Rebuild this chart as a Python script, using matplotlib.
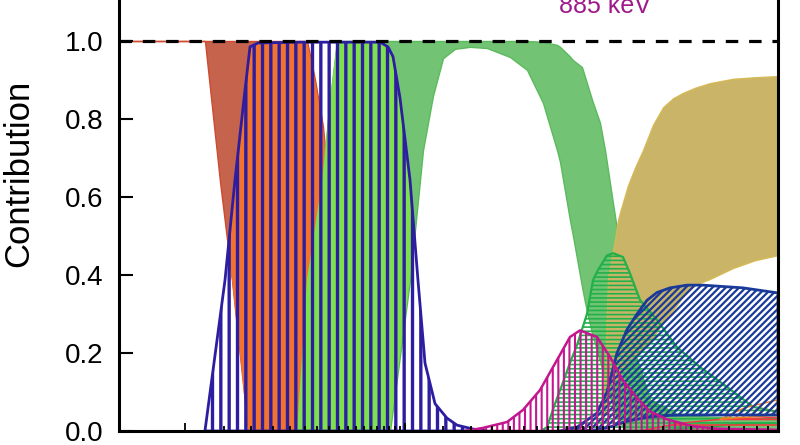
import matplotlib
matplotlib.use('Agg')
import matplotlib.pyplot as plt
from matplotlib.ticker import FixedLocator, NullFormatter, FormatStrFormatter

plt.rcParams['font.family'] = ['Liberation Sans', 'DejaVu Sans']
plt.rcParams['hatch.linewidth'] = 1.8

# ---------------- data (x on log scale) ----------------
ref_x = [0.5, 500]
ref_y = [1.0, 1.0]

# red solid band
red_x = [0.5, 1.231, 1.441, 1.634, 1.933, 3.589, 3.902, 4.243, 4.711, 5.070, 5.514]
red_lo = [1, 1, 0.64, 0.387, 0, 0, 0, 0, 0, 0, 0]
red_hi = [1, 1, 1, 1, 1, 1, 0.9, 0.78, 0.5, 0.2, 0]

# blue vertical-hatched band
blue_x = [1.231, 1.519, 1.687, 1.873, 1.974, 2.147, 3.334, 7.713, 8.386, 8.837,
          9.509, 10.56, 11.48, 12.36, 13.73, 15.56, 17.29, 20.44, 23.18]
blue_hi = [0, 0.387, 0.644, 0.874, 0.985, 0.995, 0.997, 0.997, 0.985, 0.96,
           0.854, 0.644, 0.387, 0.174, 0.07, 0.033, 0.015, 0.005, 0.0]
blue_lo = [0] * len(blue_x)

# green solid band
green_x = [3.230, 3.589, 4.199, 4.565, 4.913, 8.564, 10.56, 12.10, 13.44, 14.93,
           16.93, 19.81, 23.67, 30.12, 36.00, 42.58, 49.31, 50.88, 56.50, 58.30,
           64.07, 66.12, 71.19, 77.38, 81.55, 87.78, 93.45, 100.6, 111.7, 130.7,
           179.0, 500]
green_hi = [0, 0.39, 0.64, 0.85, 1.0, 1.0, 1.0, 1.0, 1.0, 1.0,
            1.0, 1.0, 1.0, 1.0, 1.0, 0.998, 0.99, 0.985, 0.96, 0.951,
            0.933, 0.908, 0.849, 0.79, 0.72, 0.6, 0.5, 0.35, 0.2, 0.08,
            0.04, 0.03]
green_lo = [0, 0, 0, 0, 0, 0, 0.387, 0.72, 0.86, 0.956,
            0.98, 0.985, 0.982, 0.959, 0.926, 0.841, 0.72, 0.69, 0.54, 0.50,
            0.37, 0.33, 0.25, 0.18, 0.13, 0.07, 0.03, 0, 0, 0,
            0, 0]

# tan solid band
tan_x = [77.38, 81.55, 84.13, 90.58, 93.45, 95.42, 103.8, 111.7, 121.4, 134.9,
         149.8, 166.3, 184.7, 209.5, 245.1, 311.9, 392.8, 500]
tan_hi = [0, 0.15, 0.39, 0.49, 0.54, 0.56, 0.63, 0.675, 0.72, 0.785,
          0.83, 0.853, 0.867, 0.88, 0.892, 0.903, 0.907, 0.91]
tan_lo = [0, 0.05, 0.10, 0.13, 0.14, 0.145, 0.17, 0.19, 0.21, 0.24,
          0.28, 0.31, 0.345, 0.375, 0.39, 0.418, 0.438, 0.451]

# green horizontal-hatched band
gh_x = [41.69, 44.40, 48.29, 52.51, 56.50, 60.80, 64.07, 67.50, 71.93, 75.78,
        83.25, 88.71, 98.47, 105.8, 117.7, 140.6, 173.4, 220.8, 293.0, 384.7, 500]
gh_hi = [0, 0.01, 0.07, 0.125, 0.175, 0.22, 0.26, 0.30, 0.387, 0.413,
         0.45, 0.456, 0.446, 0.405, 0.336, 0.285, 0.215, 0.164, 0.113, 0.062, 0.049]
gh_lo = [0] * 16 + [0.005, 0.01, 0.015, 0.02, 0.02]

# blue diagonal-hatched band
bd_x = [50.88, 60.80, 74.99, 83.25, 87.78, 92.47, 102.7, 114.0, 126.6, 140.6,
        161.2, 192.6, 227.8, 346.4, 500]
bd_hi = [0, 0.01, 0.046, 0.1, 0.15, 0.2, 0.26, 0.3, 0.335, 0.355,
         0.367, 0.374, 0.374, 0.367, 0.354]
bd_lo = [0, 0, 0.003, 0.008, 0.012, 0.017, 0.025, 0.03, 0.035, 0.038,
         0.04, 0.041, 0.041, 0.041, 0.041]

# magenta vertical-hatched band
mg_x = [18.79, 22.70, 29.19, 34.52, 41.26, 49.31, 56.50, 62.74, 74.99, 85.96,
        98.47, 114.0, 130.7, 156.2, 205.1, 263.8, 500]
mg_hi = [0, 0.008, 0.023, 0.054, 0.105, 0.182, 0.241, 0.258, 0.241, 0.19,
         0.13, 0.085, 0.05, 0.03, 0.012, 0.006, 0.003]
mg_lo = [0] * len(mg_x)

# small red hatched band (bottom right)
rh_x = [117.7, 179.0, 272.2, 500]
rh_hi = [0, 0.02, 0.03, 0.035]
rh_lo = [0, 0, 0, 0]

# small orange hatched band (bottom right)
oh_x = [272.2, 353.8, 500]
oh_hi = [0.03, 0.06, 0.08]
oh_lo = [0.03, 0.035, 0.04]

yticks = [0.0, 0.2, 0.4, 0.6, 0.8, 1.0]
annot_text = '885 keV'
annot_x, annot_y = 81.55, 1.072

# ---------------- colours ----------------
RED_FILL, RED_EDGE, RED_BRIGHT = '#C5634C', '#CF4A2E', '#F2732E'
GREEN_FILL, GREEN_EDGE, GREEN_BRIGHT = '#72C474', '#5CBA5E', '#7FE04E'
TAN_FILL, TAN_EDGE = '#C9B468', '#D6BA55'
BLUE_V = '#2D1DA0'
GREEN_H = '#22B04A'
BLUE_D = '#1A3A99'
MAGENTA = '#C4178F'

fig = plt.figure(figsize=(8, 4.45), dpi=100)
ax = fig.add_axes([119 / 800, 14 / 445, 659 / 800, 1.32 * 390 / 445])
ax.set_xscale('log')
ax.set_xlim(0.5, 500)
ax.set_ylim(0, 1.32)


def hatched(x, lo, hi, color, hatch, hlw, lw, z):
    with plt.rc_context({'hatch.linewidth': hlw}):
        coll = ax.fill_between(x, lo, hi, facecolor='none', edgecolor=color,
                               hatch=hatch, linewidth=lw, zorder=z)
    if hasattr(coll, 'set_hatch_linewidth'):
        coll.set_hatch_linewidth(hlw)
    return coll


ax.fill_between(red_x, red_lo, red_hi, facecolor=RED_FILL, edgecolor=RED_EDGE,
                linewidth=1.0, zorder=1)
ax.fill_between(green_x, green_lo, green_hi, facecolor=GREEN_FILL, edgecolor=GREEN_EDGE,
                linewidth=1.0, zorder=2)
ax.fill_between(tan_x, tan_lo, tan_hi, facecolor=TAN_FILL, edgecolor=TAN_EDGE,
                linewidth=1.0, zorder=3)

bv = hatched(blue_x, blue_lo, blue_hi, BLUE_V, '||', 2.4, 2.0, 6)

# brighter tints of red / green seen between the blue hatch lines
bpath = bv.get_paths()[0]
rb = ax.fill_between(red_x, red_lo, red_hi, facecolor=RED_BRIGHT, edgecolor='none', zorder=4)
rb.set_clip_path(bpath, ax.transData)
gb = ax.fill_between(green_x, green_lo, green_hi, facecolor=GREEN_BRIGHT, edgecolor='none', zorder=5)
gb.set_clip_path(bpath, ax.transData)

hatched(gh_x, gh_lo, gh_hi, GREEN_H, '----', 1.2, 1.6, 7)
hatched(rh_x, rh_lo, rh_hi, '#F03C3C', '---', 1.2, 1.0, 7.5)
hatched(oh_x, oh_lo, oh_hi, '#F08020', '/////', 1.4, 1.0, 7.6)
hatched(bd_x, bd_lo, bd_hi, BLUE_D, '/////', 1.6, 2.0, 8)
hatched(mg_x, mg_lo, mg_hi, MAGENTA, '|||', 1.5, 1.8, 9)

ax.plot(ref_x, ref_y, color='black', linewidth=2.3, linestyle=(0, (3.9, 3.4)), zorder=12)

ax.text(annot_x, annot_y, annot_text, color='#9E1A8A', fontsize=18,
        ha='center', va='baseline', zorder=13)

# ---------------- axes styling ----------------
ax.xaxis.set_major_locator(FixedLocator([1, 10, 100]))
minors = [k * 0.5 * 10 ** d for d in range(0, 3) for k in range(3, 20)]
minors = [m for m in minors if m < 500]
ax.xaxis.set_minor_locator(FixedLocator(minors))
ax.xaxis.set_minor_formatter(NullFormatter())
ax.tick_params(axis='x', which='both', direction='in', labelbottom=False, top=False,
               bottom=True, color='black')
ax.tick_params(axis='x', which='major', length=6, width=1.3)
ax.tick_params(axis='x', which='minor', length=3.6, width=1.3)

ax.set_yticks(yticks)
ax.yaxis.set_major_formatter(FormatStrFormatter('%.1f'))
ax.yaxis.set_minor_locator(FixedLocator([]))
ax.tick_params(axis='y', direction='in', length=10, width=1.5, right=False,
               pad=11, labelsize=20)

for s in ax.spines.values():
    s.set_linewidth(2.2)
    s.set_zorder(20)
ax.xaxis.set_zorder(20)
ax.yaxis.set_zorder(20)

fig.text(18.5 / 800, 1 - 173 / 445, 'Contribution', rotation=90, ha='center',
         va='center', fontsize=25)

fig.savefig('out.png', dpi=100)
